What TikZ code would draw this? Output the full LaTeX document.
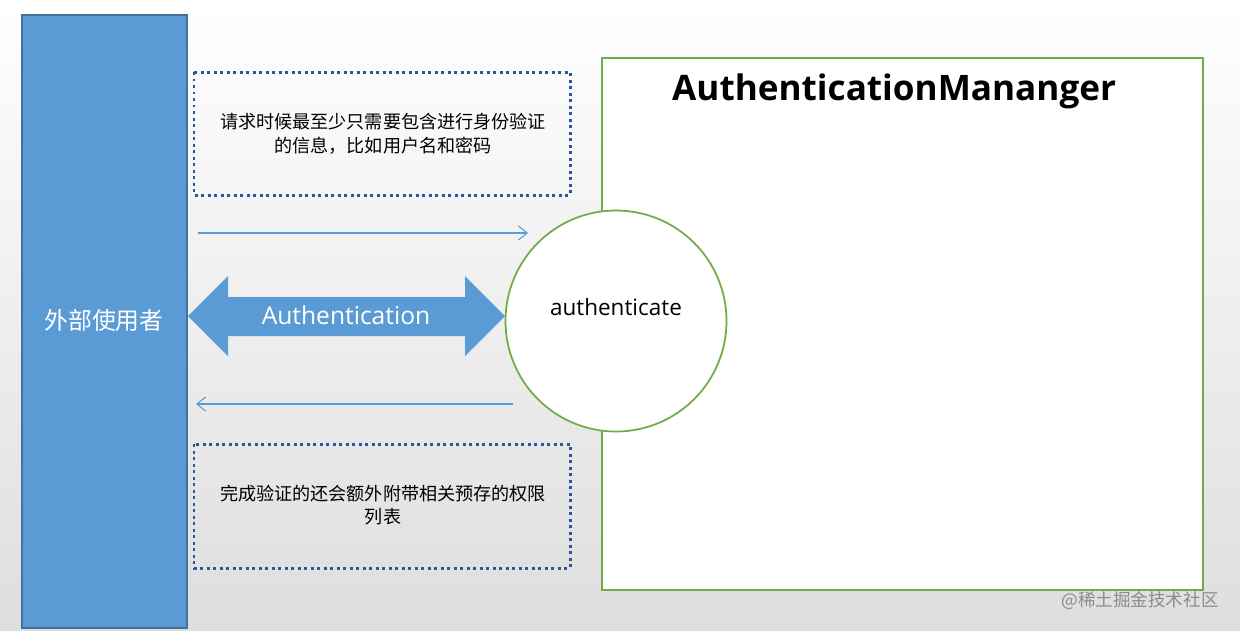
\documentclass[tikz,border=0pt]{standalone}
\usepackage{fontspec}
\setmainfont{Open Sans}
\newfontfamily\cjk{Noto Sans CJK SC}
\usetikzlibrary{arrows.meta}
\definecolor{cblue}{HTML}{5B9BD5}
\definecolor{cborder}{HTML}{41719C}
\definecolor{cdot}{HTML}{2F5597}
\definecolor{cgreen}{HTML}{70AD47}
\tikzset{
  dotbox/.style={draw=cdot, line width=1.7pt, dotted},
  thinarrow/.style={draw=cblue, line width=0.6pt, -{Straight Barb[length=5pt,width=8pt]}},
  note/.style={font=\cjk\fontsize{10.3}{13.5}\selectfont, align=center}
}
\begin{document}
\begin{tikzpicture}[x=0.02cm,y=-0.02cm]
\useasboundingbox (0,0) rectangle (1240,630);
\shade[top color=white, bottom color=black!13] (0,0) rectangle (1240,630);
\draw[fill=cblue, draw=cborder, line width=0.8pt] (22,15) rectangle (187,628);
\node[text=white, font=\cjk\fontsize{13.6}{16}\selectfont] (user) at (104,320) {外部使用者};
\draw[dotbox] (194,72) rectangle (570,195);
\node[note] (n1) at (383,134) {请求时候最至少只需要包含进行身份验证\\的信息，比如用户名和密码};
\draw[dotbox] (194,444) rectangle (570,568);
\node[note] (n2) at (383,505) {完成验证的还会额外附带相关预存的权限\\列表};
\draw[fill=white, draw=cgreen, line width=1pt] (602,58) rectangle (1203,590);
\node[font=\bfseries\fontsize{20}{24}\selectfont, anchor=west] (title) at (666,91) {AuthenticationMananger};
\node[circle, draw=cgreen, fill=white, line width=1pt, minimum size=221*0.02cm, inner sep=0pt] (circ) at (616,321) {};
\node[font=\fontsize{12.8}{15}\selectfont] at (circ) [yshift=0.28cm] {authenticate};
\fill[cblue] (188,316) -- (228,276) -- (228,297) -- (465,297) -- (465,276) -- (505,316) -- (465,356) -- (465,336) -- (228,336) -- (228,356) -- cycle;
\node[text=white, font=\fontsize{14}{16}\selectfont] (auth) at (346,315) {Authentication};
\coordinate (a1s) at (198,233); \coordinate (a1e) at (528,233);
\draw[thinarrow] (a1s) -- (a1e);
\coordinate (a2s) at (513,404); \coordinate (a2e) at (196,404);
\draw[thinarrow] (a2s) -- (a2e);
\node[text=black!45, font=\cjk\fontsize{10}{12}\selectfont] (wm) at (1140,601) {@稀土掘金技术社区};
\end{tikzpicture}
\end{document}
